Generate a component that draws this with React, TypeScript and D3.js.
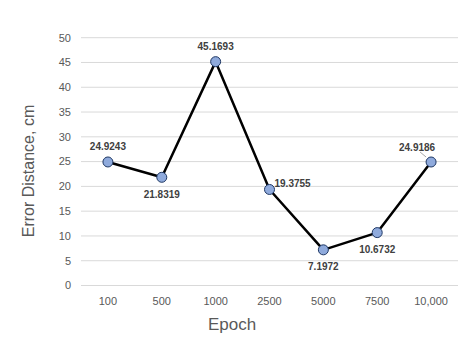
import React from "react";
import * as d3 from "d3";

const categories = ["100", "500", "1000", "2500", "5000", "7500", "10,000"];
const values = [24.9243, 21.8319, 45.1693, 19.3755, 7.1972, 10.6732, 24.9186];
const yTicks = [0, 5, 10, 15, 20, 25, 30, 35, 40, 45, 50];
// label placement: above, below, right
const labelPos = ["above", "below", "above", "right", "below", "below", "leader"];

export default function App() {
  const W = 474, H = 349;
  const x = d3.scalePoint<string>().domain(categories).range([81, 458]).padding(0.5);
  const y = d3.scaleLinear().domain([0, 50]).range([285.5, 37.7]);
  const line = d3.line<number>().x((_, i) => x(categories[i])!).y((d) => y(d));
  const font = "'Liberation Sans', Arial, sans-serif";
  return (
    <svg width={W} height={H} style={{ position: "absolute", left: 0, top: 0, background: "#fff" }}>
      {yTicks.map((t) => (
        <g key={t}>
          <line x1={81} x2={458} y1={y(t)} y2={y(t)} stroke="#d9d9d9" strokeWidth={1} />
          <text x={71} y={y(t)} dy="0.35em" textAnchor="end" fontSize={11} fill="#595959" fontFamily={font}>{t}</text>
        </g>
      ))}
      {categories.map((c) => (
        <text key={c} x={x(c)} y={301} dy="0.35em" textAnchor="middle" fontSize={11} fill="#595959" fontFamily={font}>{c}</text>
      ))}
      <text x={232} y={324} dy="0.35em" textAnchor="middle" fontSize={17} fill="#595959" fontFamily={font}>Epoch</text>
      <text transform="translate(28,171) rotate(-90)" dy="0.35em" textAnchor="middle" fontSize={16} fill="#595959" fontFamily={font}>Error Distance, cm</text>
      <path d={line(values)!} fill="none" stroke="#000" strokeWidth={2.5} strokeLinejoin="round" />
      {values.map((v, i) => {
        const cx = x(categories[i])!;
        const cy = y(v);
        const p = labelPos[i];
        let tx = cx, ty = cy, anchor: "middle" | "start" = "middle";
        if (p === "above") ty = cy - 15;
        else if (p === "below") ty = cy + 17;
        else if (p === "right") { tx = cx + 5; ty = cy - 6; anchor = "start"; }
        else { tx = cx - 14; ty = cy - 15; }
        return (
          <g key={i}>
            {p === "leader" && <line x1={cx - 5} y1={cy - 5} x2={cx - 11} y2={cy - 10} stroke="#a6a6a6" strokeWidth={1} />}
            <circle cx={cx} cy={cy} r={5} fill="#8faadc" stroke="#1f3864" strokeWidth={1} />
            <text x={tx} y={ty} dy="0.35em" textAnchor={anchor} fontSize={10} fontWeight="bold" fill="#404040" fontFamily={font}>{v.toFixed(4)}</text>
          </g>
        );
      })}
    </svg>
  );
}
